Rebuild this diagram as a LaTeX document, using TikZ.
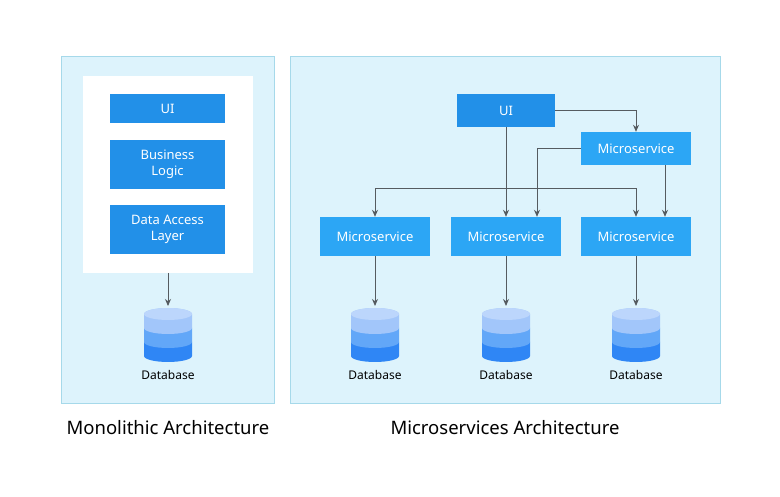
\documentclass[tikz,border=0pt]{standalone}
\usepackage{fontspec}
\setmainfont{Noto Sans}
\usetikzlibrary{arrows.meta, positioning}
\definecolor{panelbg}{HTML}{DDF3FC}
\definecolor{panelline}{HTML}{A6D9EA}
\definecolor{uiblue}{HTML}{2290E8}
\definecolor{msblue}{HTML}{2CA6F5}
\definecolor{dbtop}{HTML}{BCD6FC}
\definecolor{dbone}{HTML}{A2C6FA}
\definecolor{dbtwo}{HTML}{62A7F8}
\definecolor{dbthree}{HTML}{2F86F5}
\definecolor{arrowgray}{HTML}{555B60}
% database icon: centre x, top y, name
\newcommand{\dbicon}[3]{%
  \fill[dbthree] (#1-24,#2-42) arc[start angle=180,end angle=360,x radius=24pt,y radius=6pt] -- (#1+24,#2-28) arc[start angle=0,end angle=180,x radius=24pt,y radius=6pt] -- cycle;
  \fill[dbtwo] (#1-24,#2-28) arc[start angle=180,end angle=360,x radius=24pt,y radius=6pt] -- (#1+24,#2-14) arc[start angle=0,end angle=180,x radius=24pt,y radius=6pt] -- cycle;
  \fill[dbone] (#1-24,#2-14) arc[start angle=180,end angle=360,x radius=24pt,y radius=6pt] -- (#1+24,#2) arc[start angle=0,end angle=180,x radius=24pt,y radius=6pt] -- cycle;
  \fill[dbtop] (#1,#2) ellipse[x radius=24pt,y radius=6pt];
  \coordinate (#3) at (#1,#2+8);
  \node[dblabel] (#3label) at (#1,#2-61) {Database};
}
\begin{document}
\begin{tikzpicture}[
		x=1pt, y=1pt,
		panel/.style={draw=panelline, fill=panelbg, line width=0.8pt},
		layer/.style={fill=uiblue, text=white, minimum width=115pt, align=center, inner sep=0pt, font=\fontsize{13}{16}\selectfont},
		ms/.style={fill=msblue, text=white, minimum width=110pt, minimum height=39pt, inner sep=0pt, font=\fontsize{13}{15}\selectfont},
		dblabel/.style={font=\fontsize{12}{14}\selectfont\bfseries},
		title/.style={font=\fontsize{18.5}{22}\selectfont},
		link/.style={draw=arrowgray, line width=1pt, -{Stealth[length=7pt,width=6pt]}},
		]
		\useasboundingbox (0,0) rectangle (780,496);
		% Monolithic
		\draw[panel] (61,440) rectangle (274,93);
		\fill[white] (83,420) rectangle (253,223);
		\node[layer, minimum height=29pt] (mui) at (167.5,387.5) {UI};
		\node[layer, minimum height=49pt] (mlogic) at (167.5,331.5) {Business\\Logic};
		\node[layer, minimum height=49pt] (mdata) at (167.5,266.5) {Data Access\\Layer};
		\coordinate (mwhite) at (168,223);
		\dbicon{168}{182}{mdb}
		\draw[link] (mwhite) -- (mdb);
		\node[title] (mtitle) at (168,68) {Monolithic Architecture};
		% Microservices
		\draw[panel] (290,440) rectangle (720,93);
		\node[fill=uiblue, text=white, minimum width=98pt, minimum height=33pt, inner sep=0pt, font=\fontsize{13}{15}\selectfont] (ui) at (506,385.5) {UI};
		\node[ms, minimum height=33pt] (mstop) at (636,347.5) {Microservice};
		\node[ms] (msa) at (375,259.5) {Microservice};
		\node[ms] (msb) at (506,259.5) {Microservice};
		\node[ms] (msc) at (636,259.5) {Microservice};
		\coordinate (split) at (506,307);
		\draw[link] (ui.east) -- (636,385.5) -- (mstop.north);
		\draw[link] (ui.south) -- (msb.north);
		\draw[link] (mstop.west) -| ([xshift=31pt]msb.north);
		\draw[link] (mstop.south -| 665,0) -- ([xshift=29pt]msc.north);
		\draw[link] (split) -| (msa.north);
		\draw[link] (split) -| (msc.north);
		\dbicon{375}{182}{dba}
		\dbicon{506}{182}{dbb}
		\dbicon{636}{182}{dbc}
		\draw[link] (msa) -- (dba);
		\draw[link] (msb) -- (dbb);
		\draw[link] (msc) -- (dbc);
		\node[title] (stitle) at (505,68) {Microservices Architecture};
\end{tikzpicture}
\end{document}
